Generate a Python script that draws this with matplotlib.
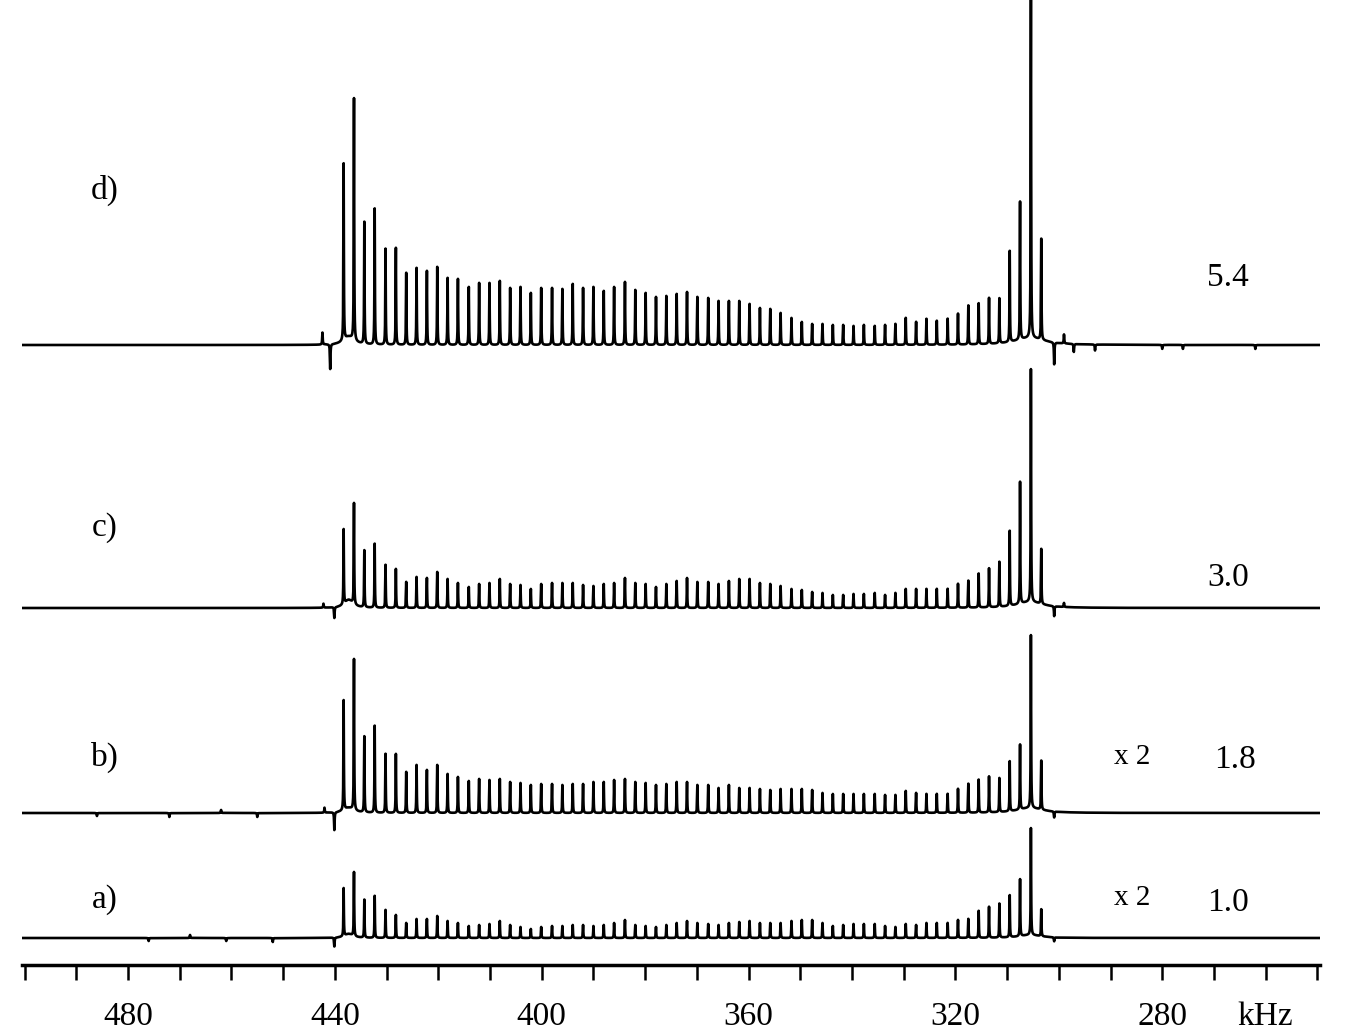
import numpy as np
import matplotlib.pyplot as plt

plt.rcParams["font.family"] = ["Liberation Serif", "DejaVu Serif"]

# spinning sideband positions (kHz)
sideband_khz = [438.3, 436.3, 434.3, 432.3, 430.2, 428.2, 426.2, 424.2, 422.2, 420.2,
                418.2, 416.2, 414.1, 412.1, 410.1, 408.1, 406.1, 404.1, 402.1, 400.1,
                398.0, 396.0, 394.0, 392.0, 390.0, 388.0, 386.0, 383.9, 381.9, 379.9,
                377.9, 375.9, 373.9, 371.9, 369.9, 367.8, 365.8, 363.8, 361.8, 359.8,
                357.8, 355.8, 353.8, 351.7, 349.7, 347.7, 345.7, 343.7, 341.7, 339.7,
                337.7, 335.6, 333.6, 331.6, 329.6, 327.6, 325.6, 323.6, 321.5, 319.5,
                317.5, 315.5, 313.5, 311.5, 309.5, 307.5, 305.4, 303.4]

# sideband intensities (arbitrary units) for each spectrum
int_a = [48, 64, 38, 42, 28, 23, 15, 19, 19, 22, 17, 15, 12, 13, 14, 17, 13, 11, 9, 11,
         12, 12, 13, 13, 12, 13, 15, 18, 13, 12, 11, 13, 15, 17, 15, 14, 13, 15, 16, 17,
         15, 15, 15, 17, 18, 18, 15, 12, 13, 14, 14, 14, 12, 11, 14, 13, 15, 15, 15, 18,
         19, 27, 31, 34, 42, 57, 107, 27]
int_b = [110, 151, 76, 87, 59, 59, 41, 48, 43, 48, 39, 36, 32, 34, 33, 34, 31, 30, 28, 29,
         29, 28, 29, 29, 31, 31, 33, 34, 31, 30, 28, 29, 31, 31, 28, 28, 25, 28, 25, 25,
         24, 23, 24, 24, 24, 23, 20, 19, 19, 19, 19, 19, 18, 18, 22, 20, 19, 19, 19, 24,
         29, 33, 36, 34, 50, 65, 173, 49]
int_c = [75, 101, 57, 64, 43, 39, 26, 31, 30, 36, 29, 25, 21, 24, 25, 29, 24, 23, 19, 24,
         25, 25, 25, 23, 22, 24, 25, 30, 25, 24, 21, 24, 27, 30, 26, 26, 24, 27, 29, 29,
         25, 24, 22, 19, 18, 16, 15, 13, 13, 14, 14, 15, 13, 15, 19, 19, 19, 19, 19, 24,
         27, 34, 39, 45, 75, 122, 233, 55]
int_d = [177, 242, 122, 136, 96, 97, 72, 77, 74, 78, 67, 66, 58, 62, 62, 64, 57, 58, 52, 57,
         57, 56, 61, 57, 58, 54, 58, 63, 55, 52, 48, 49, 51, 53, 48, 47, 44, 44, 44, 41,
         37, 36, 32, 27, 23, 21, 21, 20, 20, 19, 20, 19, 20, 21, 27, 23, 26, 24, 26, 31,
         39, 41, 46, 45, 91, 138, 360, 101]

# small glitches on the baselines: (kHz, amplitude)
spikes_a = [(476, -3), (468, 3), (461, -3), (452, -4), (440.1, -9), (300.9, -4)]
spikes_b = [(486, -3), (472, -4), (462, 3), (455, -4), (442.0, 5), (440.1, -18), (300.9, -6)]
spikes_c = [(442.2, 4), (440.1, -11), (300.9, -10), (299.0, 4)]
spikes_d = [(442.4, 12), (440.9, -25), (300.9, -22), (299.0, 9), (297.1, -8),
            (293.0, -6), (280.0, -4), (276.0, -4), (262.0, -4)]

# broad humps under the edges: (kHz, amplitude, half width kHz)
humps_a = [(437.3, 4, 1.0), (305.5, 3, 2.5)]
humps_b = [(437.3, 5, 1.2), (305.5, 5, 3.0)]
humps_c = [(437.3, 8, 1.0), (305.5, 6, 3.0)]
humps_d = [(437.3, 8, 1.2), (305.5, 7, 3.5)]

labels = ["a)", "b)", "c)", "d)"]
ratios = ["1.0", "1.8", "3.0", "5.4"]
offsets = [27, 152, 357, 620]

fig = plt.figure(figsize=(13.47, 10.32), dpi=100)
ax = fig.add_axes([22 / 1347, 67 / 1032, 1298 / 1347, 965 / 1032])

x = np.linspace(249.5, 500.5, 80000)


def spectrum(heights, spikes, humps, w=0.05):
    y = np.zeros_like(x)
    for f, h in zip(sideband_khz, heights):
        y += h / (1 + ((x - f) / w) ** 2)
    for f, h in spikes:
        y += h / (1 + ((x - f) / 0.06) ** 2)
    for f, h, hw in humps:
        y += h / (1 + ((x - f) / hw) ** 2)
    return y


traces = [(int_a, spikes_a, humps_a), (int_b, spikes_b, humps_b),
          (int_c, spikes_c, humps_c), (int_d, spikes_d, humps_d)]

for (h, s, hm), off in zip(traces, offsets):
    ax.plot(x, off + spectrum(h, s, hm), color="black", lw=1.9)

txt = dict(fontsize=24, ha="center", va="center", color="black")
label_dy = [38, 56, 80, 155]
ratio_dy = [35, 53, 30, 67]
for lab, r, off, dy, ry in zip(labels, ratios, offsets, label_dy, ratio_dy):
    ax.text(484.5, off + dy, lab, **txt)
    ax.text(267.3 if r != "1.8" else 266.0, off + ry, r, **txt)
ax.text(285.8, offsets[1] + 56, "x 2", fontsize=21, ha="center", va="center")
ax.text(285.8, offsets[0] + 40, "x 2", fontsize=21, ha="center", va="center")

ax.set_xlim(500.5, 249.5)
ax.set_ylim(0, 965)
for side in ["top", "left", "right"]:
    ax.spines[side].set_visible(False)
ax.spines["bottom"].set_linewidth(2.5)
ax.set_yticks([])

tick_pos = list(range(250, 501, 10))
tick_lab = {480: "480", 440: "440", 400: "400", 360: "360", 320: "320", 280: "280", 260: "kHz"}
ax.set_xticks(tick_pos)
ax.set_xticklabels([tick_lab.get(t, "") for t in tick_pos])
ax.tick_params(axis="x", direction="out", length=11, width=1.8, labelsize=24, pad=15)

fig.savefig("out.png", dpi=100)
